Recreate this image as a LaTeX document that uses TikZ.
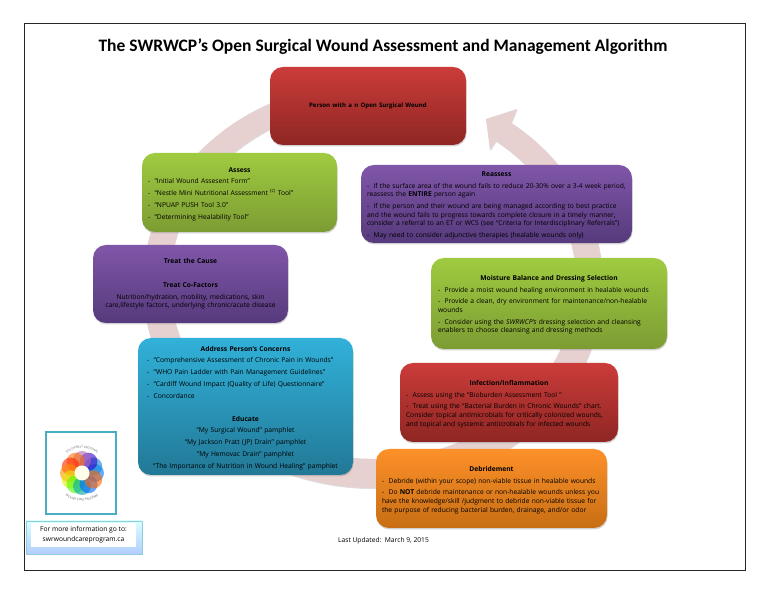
\documentclass[tikz,border=0pt]{standalone}
\usepackage{fontspec}
\setmainfont{Open Sans}
\newfontfamily\titlefont{Carlito}
\usetikzlibrary{shadows, decorations.text}

\definecolor{ringpink}{HTML}{E6D0D0}
\definecolor{redtop}{HTML}{CB3C3A}
\definecolor{redbot}{HTML}{8E2623}
\definecolor{greentop}{HTML}{9FCB40}
\definecolor{greenbot}{HTML}{7C9C33}
\definecolor{purpletop}{HTML}{8056A9}
\definecolor{purplebot}{HTML}{563A7C}
\definecolor{bluetop}{HTML}{31B1D9}
\definecolor{bluebot}{HTML}{227896}
\definecolor{orangetop}{HTML}{FD9029}
\definecolor{orangebot}{HTML}{C76E14}
\definecolor{framecyan}{HTML}{4BACC6}

\newcommand{\boxhead}[1]{{\centering\textbf{#1}\par}}
\newcommand{\boxtop}[1]{{\centering\rule{0pt}{8pt}\textbf{#1}\par}}

\begin{document}
\begin{tikzpicture}[x=1pt, y=1pt,
  stagebox/.style={rounded corners=13pt, inner xsep=6pt, inner ysep=0pt, outer sep=0pt, align=left,
    font=\fontsize{6.7}{8.6}\selectfont, text=black,
    execute at begin node={\setlength{\parskip}{3.2pt}},
    drop shadow={shadow xshift=0.5pt, shadow yshift=-1.5pt, opacity=0.35}},
  redbox/.style={stagebox, top color=redtop, bottom color=redbot},
  greenbox/.style={stagebox, top color=greentop, bottom color=greenbot},
  purplebox/.style={stagebox, top color=purpletop, bottom color=purplebot},
  bluebox/.style={stagebox, top color=bluetop, bottom color=bluebot},
  orangebox/.style={stagebox, top color=orangetop, bottom color=orangebot}]

\useasboundingbox (0,0) rectangle (768,594);
\fill[white] (0,0) rectangle (768,594);
\draw[black!85, line width=1pt] (24,23) rectangle (745,570);

% Titulo
\node[font=\titlefont\bfseries\fontsize{17.5}{20}\selectfont] (title) at (383,547)
  {The SWRWCP’s Open Surgical Wound Assessment and Management Algorithm};

% Anillo con flecha
\fill[ringpink, drop shadow={shadow xshift=0.5pt, shadow yshift=-1pt, opacity=0.25}]
  (373,309) ++(110:230 and 203) arc[start angle=110, end angle=413, x radius=230, y radius=203]
  -- (517,485) -- (486,475) -- (490,444) -- (496,453)
  arc[start angle=412.7, end angle=110, x radius=203, y radius=177] -- cycle;

% Cajas del ciclo
\node[redbox, text width=184pt, minimum height=78pt] (person) at (368,488)
  {\boxhead{\fontsize{6.1}{8}\selectfont Person with a n Open Surgical Wound}};

\node[greenbox, text width=183pt, minimum height=79pt] (assess) at (239.5,401.5)
  {\boxtop{Assess}
  -\ \ “Initial Wound Assesent Form”\par
  -\ \ “Nestle Mini Nutritional Assessment \textsuperscript{(c)} Tool”\par
  -\ \ “NPUAP PUSH Tool 3.0”\par
  -\ \ “Determining Healability Tool”};

\node[purplebox, text width=183pt, minimum height=78pt] (treat) at (190.5,310)
  {\boxhead{Treat the Cause}
  \vspace{12pt}
  \boxhead{Treat Co-Factors}
  {\centering Nutrition/hydration, mobility, medications, skin\\
  care,lifestyle factors, underlying chronic/acute disease\par}};

\node[bluebox, inner xsep=9pt, text width=197pt, minimum height=137pt] (concerns) at (245.5,187.5)
  {\boxtop{Address Person’s Concerns}
  -\ \ “Comprehensive Assessment of Chronic Pain in Wounds”\par
  -\ \ “WHO Pain Ladder with Pain Management Guidelines”\par
  -\ \ “Cardiff Wound Impact (Quality of Life) Questionnaire”\par
  -\ \ Concordance\par
  \vspace{11pt}
  \boxhead{Educate}
  {\centering “My Surgical Wound” pamphlet\par
  “My Jackson Pratt (JP) Drain” pamphlet\par
  “My Hemovac Drain” pamphlet\par
  “The Importance of Nutrition in Wound Healing” pamphlet\par}};

\node[orangebox, text width=219pt, minimum height=79pt] (debride) at (491.5,105.5)
  {\boxtop{Debridement}
  -\ \ Debride (within your scope) non-viable tissue in healable wounds\par
  -\ \ Do \textbf{NOT} debride maintenance or non-healable wounds unless you\\
  have the knowledge/skill /judgment to debride non-viable tissue for\\
  the purpose of reducing bacterial burden, drainage, and/or odor};

\node[redbox, text width=206pt, minimum height=79pt] (infection) at (509,191.5)
  {\boxtop{Infection/Inflammation}
  -\ \ Assess using the “Bioburden Assessment Tool ”\par
  -\ \ Treat using the “Bacterial Burden in Chronic Wounds” chart.\\
  Consider topical antimicrobials for critically colonized wounds,\\
  and topical and systemic antiicrobials for infected wounds};

\node[greenbox, inner xsep=7pt, text width=222pt, minimum height=91pt] (moisture) at (549,290.5)
  {\boxtop{Moisture Balance and Dressing Selection}
  -\ \ Provide a moist wound healing environment in healable wounds\par
  -\ \ Provide a clean, dry environment for maintenance/non-healable\\
  wounds\par
  -\ \ Consider using the \textit{SWRWCP’s} dressing selection and cleansing\\
  enablers to choose cleansing and dressing methods};

\node[purplebox, text width=259pt, minimum height=78pt] (reassess) at (496.5,390)
  {\boxtop{Reassess}
  -\ \ If the surface area of the wound fails to reduce 20-30\% over a 3-4 week period,\\
  reassess the \textbf{ENTIRE} person again\par
  -\ \ If the person and their wound are being managed according to best practice\\
  and the wound fails to progress towards complete closure in a timely manner,\\
  consider a referral to an ET or WCS (see “Criteria for Interdisciplinary Referrals”)\par
  -\ \ May need to consider adjunctive therapies (healable wounds only)};

% Logo
\node[draw=framecyan, line width=2pt, fill=white, minimum width=70pt, minimum height=82pt, inner sep=0pt] (logoframe) at (80.5,120.5) {};
\foreach \ang/\col in {0/blue!55!cyan, 30/cyan!70!blue, 60/blue!60!violet, 90/violet!60, 120/orange!90!red, 150/red!70!orange,
    180/orange!90!yellow, 210/yellow!90!green, 240/green!70!yellow, 270/teal!70!cyan, 300/blue!60!cyan, 330/orange!80!red}
  \fill[\col, opacity=0.6] (82,121) ++(\ang:13) circle[radius=9];
\node[circle, fill=white!92!yellow, minimum size=15pt, inner sep=0pt] (logocentre) at (82,121) {};
\path[decorate, decoration={text along path, text align=center,
    text={|\fontsize{3}{3}\selectfont\color{black!60}|SOUTHWEST REGIONAL}}]
  (82,121) ++(155:25) arc[start angle=155, end angle=25, radius=25];
\path[decorate, decoration={text along path, text align=center,
    text={|\fontsize{3}{3}\selectfont\color{black!60}|WOUND CARE PROGRAM}}]
  (82,121) ++(208:28) arc[start angle=208, end angle=332, radius=28];

% Recuadro inferior
\node[top color=cyan!15, bottom color=cyan!35!blue!30, draw=framecyan!60, minimum width=116pt, minimum height=33pt, inner sep=0pt,
  drop shadow={shadow xshift=0.5pt, shadow yshift=-1pt, opacity=0.3}] (infobox) at (84,56.5) {};
\node[fill=white, minimum width=105pt, minimum height=24pt, inner sep=0pt, align=center,
  font=\fontsize{6.7}{9.7}\selectfont] (infotext) at (83.5,59)
  {For more information go to:\\ swrwoundcareprogram.ca};

\node[font=\fontsize{6.7}{8}\selectfont] (updated) at (383.5,53) {Last Updated:\ \ March 9, 2015};

\end{tikzpicture}
\end{document}
